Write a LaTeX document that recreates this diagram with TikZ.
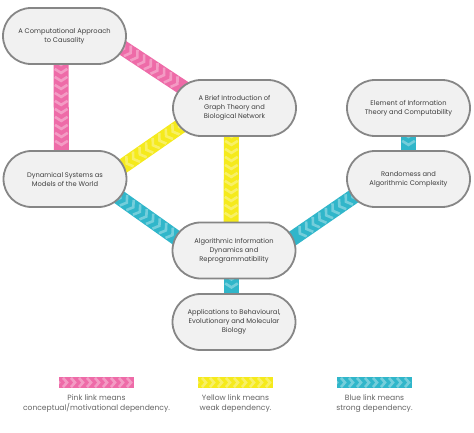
\documentclass[tikz,border=0pt]{standalone}
\usepackage{fontspec}
\setmainfont{Poppins}
\usetikzlibrary{shapes.misc}
\usetikzlibrary{decorations.markings}
\usetikzlibrary{backgrounds}
\definecolor{pinkcolor}{HTML}{EE6BA8}
\definecolor{yellowcolor}{HTML}{F5EA1C}
\definecolor{bluecolor}{HTML}{30B6CA}
\definecolor{boxfill}{HTML}{F1F1F1}
\definecolor{boxdraw}{HTML}{868686}
\definecolor{textcolor}{HTML}{3E3E3E}
\definecolor{legendtext}{HTML}{646464}
\tikzset{
  topic/.style={rounded rectangle, draw=boxdraw, line width=1.8pt, fill=boxfill,
    minimum width=123pt, minimum height=56pt, inner sep=0pt, align=center,
    font=\fontsize{6.7}{9}\selectfont, text=textcolor},
  chevrons/.style={postaction={decorate, decoration={markings,
    mark=between positions 0 and 1 step 8pt with {
      \draw[white, opacity=0.33, line width=2.6pt, shorten <=0pt, shorten >=0pt]
        (-4pt,#1) -- (0pt,0pt) -- (-4pt,-#1);}}}},
  link/.style={line width=15pt, shorten <=-6pt, shorten >=-6pt, chevrons=6.3pt},
  legendlink/.style={line width=11pt, chevrons=4.6pt},
  legendlabel/.style={align=center, font=\fontsize{7.6}{10}\selectfont, text=legendtext},
}

\begin{document}
\begin{tikzpicture}[x=1pt, y=1pt]
  \useasboundingbox (0,0) rectangle (474,432);
  % Topics
  \node[topic] (causality) at (64.5,396) {A Computational Approach\\to Causality};
  \node[topic] (graph) at (234.5,324) {A Brief Introduction of\\Graph Theory and\\Biological Network};
  \node[topic] (dynsys) at (65,253) {Dynamical Systems as\\Models of the World};
  \node[topic] (element) at (408.5,324) {Element of Information\\Theory and Computability};
  \node[topic] (random) at (408.5,253) {Randomess and\\Algorithmic Complexity};
  \node[topic] (aid) at (234,181.5) {Algorithmic Information\\Dynamics and\\Reprogrammatibility};
  \node[topic] (apps) at (234,110) {Applications to Behavioural,\\Evolutionary and Molecular\\Biology};
  % Links (behind the topics)
  \begin{pgfonlayer}{background}
    \draw[link, pinkcolor] ([xshift=-3.5pt]causality.south) -- ([xshift=-3.5pt]dynsys.north);
    \draw[link, pinkcolor] (causality.-12) -- (graph.158.6);
    \draw[link, yellowcolor] (graph.-161) -- (dynsys.13.8);
    \draw[link, yellowcolor] ([xshift=-3pt]graph.south) -- ([xshift=-3pt]aid.north);
    \draw[link, bluecolor] (dynsys.-19.4) -- (aid.167.6);
    \draw[link, bluecolor] (random.-162) -- (aid.12.2);
    \draw[link, bluecolor] (element.south) -- (random.north);
    \draw[link, bluecolor] ([xshift=-2.5pt]aid.south) -- ([xshift=-2.5pt]apps.north);
  \end{pgfonlayer}
  % Legend
  \coordinate (pinkA) at (59,49.5);
  \coordinate (pinkB) at (134,49.5);
  \coordinate (yellowA) at (198,49.5);
  \coordinate (yellowB) at (273,49.5);
  \coordinate (blueA) at (337,49.5);
  \coordinate (blueB) at (412,49.5);
  \draw[legendlink, pinkcolor] (pinkA) -- (pinkB);
  \draw[legendlink, yellowcolor] (yellowA) -- (yellowB);
  \draw[legendlink, bluecolor] (blueA) -- (blueB);
  \node[legendlabel] (pinktext) at (96.5,28) {Pink link means\\conceptual/motivational dependency.};
  \node[legendlabel] (yellowtext) at (235.5,28) {Yellow link means\\weak dependency.};
  \node[legendlabel] (bluetext) at (374.5,28) {Blue link means\\strong dependency.};
\end{tikzpicture}
\end{document}
